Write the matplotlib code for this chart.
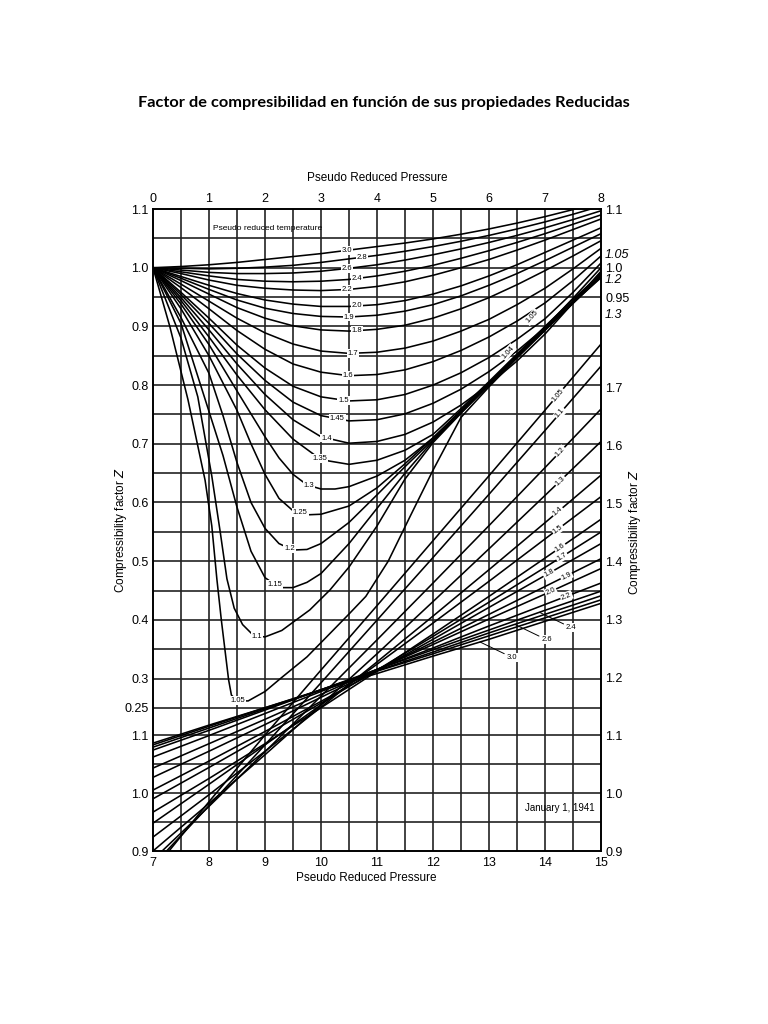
import numpy as np
import matplotlib
matplotlib.use("Agg")
import matplotlib.pyplot as plt

plt.rcParams['font.family'] = ['Liberation Sans Narrow', 'Liberation Sans', 'DejaVu Sans']

# ---- upper chart (pseudo reduced pressure 0 - 8) ----
p_up = [0, 0.5, 1, 1.5, 2, 2.5, 3, 3.5, 4, 4.5, 5, 5.5, 6, 6.5, 7, 7.5, 8]

z_up_30 = [1.0, 1.002, 1.005, 1.009, 1.014, 1.019, 1.024, 1.030, 1.036, 1.042, 1.049, 1.057, 1.066, 1.076, 1.087, 1.099, 1.112]
z_up_28 = [1.0, 0.999, 0.998, 0.999, 1.001, 1.004, 1.009, 1.015, 1.021, 1.028, 1.036, 1.045, 1.055, 1.066, 1.078, 1.091, 1.105]
z_up_26 = [1.0, 0.996, 0.992, 0.990, 0.990, 0.991, 0.994, 0.999, 1.005, 1.013, 1.022, 1.032, 1.043, 1.055, 1.068, 1.082, 1.097]
z_up_24 = [1.0, 0.993, 0.986, 0.980, 0.977, 0.976, 0.977, 0.980, 0.986, 0.994, 1.004, 1.016, 1.029, 1.043, 1.058, 1.074, 1.090]
z_up_22 = [1.0, 0.990, 0.979, 0.970, 0.965, 0.962, 0.961, 0.963, 0.968, 0.976, 0.987, 1.000, 1.014, 1.030, 1.047, 1.065, 1.083]
z_up_20 = [1.0, 0.985, 0.970, 0.956, 0.945, 0.938, 0.934, 0.934, 0.937, 0.944, 0.955, 0.969, 0.986, 1.005, 1.026, 1.047, 1.068]
z_up_19 = [1.0, 0.982, 0.963, 0.945, 0.931, 0.922, 0.917, 0.916, 0.919, 0.926, 0.937, 0.952, 0.970, 0.990, 1.012, 1.035, 1.058]
z_up_18 = [1.0, 0.978, 0.955, 0.932, 0.914, 0.901, 0.894, 0.892, 0.895, 0.902, 0.914, 0.930, 0.949, 0.971, 0.995, 1.020, 1.046]
z_up_17 = [1.0, 0.972, 0.943, 0.914, 0.889, 0.870, 0.858, 0.854, 0.856, 0.863, 0.875, 0.892, 0.912, 0.937, 0.965, 0.998, 1.033]
z_up_16 = [1.0, 0.966, 0.930, 0.893, 0.861, 0.836, 0.822, 0.816, 0.818, 0.826, 0.840, 0.859, 0.882, 0.909, 0.940, 0.978, 1.020]
z_up_15 = [1.0, 0.958, 0.914, 0.868, 0.829, 0.798, 0.780, 0.773, 0.775, 0.784, 0.800, 0.821, 0.847, 0.878, 0.913, 0.958, 1.008]
z_up_145 = [1.0, 0.954, 0.905, 0.853, 0.808, 0.771, 0.748, 0.739, 0.741, 0.751, 0.769, 0.793, 0.823, 0.858, 0.898, 0.948, 1.000]
z_up_14 = [1.0, 0.949, 0.894, 0.836, 0.784, 0.741, 0.712, 0.701, 0.704, 0.716, 0.737, 0.766, 0.801, 0.841, 0.887, 0.940, 0.994]
z_up_135 = [1.0, 0.944, 0.882, 0.817, 0.758, 0.708, 0.673, 0.665, 0.672, 0.689, 0.716, 0.760, 0.806, 0.853, 0.900, 0.946, 0.990]

p_up_13 = [0, 0.5, 1, 1.5, 2, 2.25, 2.5, 2.75, 3, 3.25, 3.5, 4, 4.5, 5, 5.5, 6, 6.5, 7, 7.5, 8]
z_up_13 = [1.0, 0.938, 0.869, 0.790, 0.712, 0.676, 0.648, 0.630, 0.623, 0.623, 0.627, 0.645, 0.672, 0.710, 0.757, 0.804, 0.852, 0.899, 0.943, 0.987]

p_up_125 = [0, 0.5, 1, 1.5, 1.75, 2, 2.25, 2.5, 2.75, 3, 3.5, 4, 4.5, 5, 5.5, 6, 6.5, 7, 7.5, 8]
z_up_125 = [1.0, 0.930, 0.850, 0.757, 0.700, 0.648, 0.607, 0.586, 0.579, 0.580, 0.594, 0.625, 0.666, 0.710, 0.755, 0.802, 0.850, 0.897, 0.941, 0.984]

p_up_12 = [0, 0.5, 1, 1.25, 1.5, 1.75, 2, 2.25, 2.5, 2.75, 3, 3.5, 4, 4.5, 5, 5.5, 6, 6.5, 7, 7.5, 8]
z_up_12 = [1.0, 0.915, 0.820, 0.748, 0.668, 0.600, 0.556, 0.530, 0.519, 0.520, 0.530, 0.566, 0.613, 0.661, 0.707, 0.754, 0.801, 0.849, 0.896, 0.940, 0.983]

p_up_115 = [0, 0.5, 1, 1.25, 1.5, 1.75, 2, 2.25, 2.5, 2.75, 3, 3.5, 4, 4.5, 5, 5.5, 6, 6.5, 7, 7.5, 8]
z_up_115 = [1.0, 0.905, 0.755, 0.680, 0.592, 0.517, 0.472, 0.455, 0.455, 0.464, 0.479, 0.530, 0.590, 0.650, 0.705, 0.753, 0.800, 0.848, 0.895, 0.939, 0.985]

p_up_11 = [0, 0.5, 0.8, 1.05, 1.2, 1.32, 1.45, 1.6, 1.8, 2.0, 2.3, 2.8, 3.16, 3.5, 4, 4.5, 5, 5.5, 6, 6.5, 7, 7.5, 8]
z_up_11 = [1.0, 0.880, 0.780, 0.645, 0.550, 0.470, 0.420, 0.392, 0.373, 0.371, 0.382, 0.417, 0.451, 0.490, 0.560, 0.640, 0.702, 0.752, 0.800, 0.848, 0.894, 0.940, 0.988]

p_up_105 = [0, 0.3, 0.625, 0.93, 1.05, 1.14, 1.22, 1.29, 1.35, 1.4, 1.5, 1.7, 2.0, 2.3, 2.75, 3.1, 3.5, 3.8, 4.2, 4.6, 5.0, 5.5, 6, 6.5, 7, 7.5, 8]
z_up_105 = [1.0, 0.900, 0.775, 0.638, 0.560, 0.470, 0.400, 0.345, 0.298, 0.272, 0.262, 0.262, 0.278, 0.302, 0.337, 0.371, 0.410, 0.440, 0.500, 0.578, 0.655, 0.745, 0.797, 0.846, 0.893, 0.942, 0.992]

# label text and the pressure where each label sits on its curve
upper_curves = [
    ("3.0", p_up, z_up_30, 3.46), ("2.8", p_up, z_up_28, 3.73),
    ("2.6", p_up, z_up_26, 3.46), ("2.4", p_up, z_up_24, 3.64),
    ("2.2", p_up, z_up_22, 3.46), ("2.0", p_up, z_up_20, 3.64),
    ("1.9", p_up, z_up_19, 3.5), ("1.8", p_up, z_up_18, 3.64),
    ("1.7", p_up, z_up_17, 3.57), ("1.6", p_up, z_up_16, 3.48),
    ("1.5", p_up, z_up_15, 3.4), ("1.45", p_up, z_up_145, 3.29),
    ("1.4", p_up, z_up_14, 3.1), ("1.35", p_up, z_up_135, 2.98),
    ("1.3", p_up_13, z_up_13, 2.79), ("1.25", p_up_125, z_up_125, 2.63),
    ("1.2", p_up_12, z_up_12, 2.44), ("1.15", p_up_115, z_up_115, 2.17),
    ("1.1", p_up_11, z_up_11, 1.86), ("1.05", p_up_105, z_up_105, 1.52),
]

# ---- lower chart (pseudo reduced pressure 7 - 15) ----
p_low = [7, 8, 9, 10, 11, 12, 13, 14, 15]

z_low_30 = [1.086, 1.117, 1.147, 1.177, 1.206, 1.236, 1.265, 1.296, 1.327]
z_low_28 = [1.083, 1.115, 1.147, 1.178, 1.210, 1.240, 1.271, 1.302, 1.333]
z_low_26 = [1.079, 1.112, 1.145, 1.178, 1.211, 1.243, 1.276, 1.308, 1.340]
z_low_24 = [1.074, 1.108, 1.143, 1.178, 1.213, 1.247, 1.281, 1.315, 1.348]
z_low_22 = [1.062, 1.099, 1.137, 1.175, 1.213, 1.250, 1.288, 1.325, 1.362]
z_low_20 = [1.043, 1.085, 1.127, 1.170, 1.213, 1.256, 1.300, 1.343, 1.387]
z_low_19 = [1.027, 1.072, 1.118, 1.165, 1.212, 1.260, 1.308, 1.356, 1.404]
z_low_18 = [1.005, 1.055, 1.106, 1.158, 1.211, 1.265, 1.320, 1.375, 1.430]
z_low_17 = [0.990, 1.044, 1.099, 1.155, 1.212, 1.270, 1.329, 1.389, 1.450]
z_low_16 = [0.967, 1.025, 1.085, 1.147, 1.210, 1.274, 1.339, 1.405, 1.472]
z_low_15 = [0.948, 1.015, 1.083, 1.152, 1.222, 1.293, 1.365, 1.438, 1.511]
z_low_14 = [0.924, 0.997, 1.072, 1.148, 1.226, 1.305, 1.385, 1.466, 1.548]
z_low_13 = [0.900, 0.982, 1.066, 1.152, 1.240, 1.330, 1.421, 1.513, 1.606]
z_low_12 = [0.885, 0.977, 1.071, 1.167, 1.264, 1.362, 1.461, 1.561, 1.662]
z_low_11 = [0.875, 0.978, 1.083, 1.190, 1.298, 1.406, 1.515, 1.625, 1.736]
z_low_105 = [0.866, 0.985, 1.100, 1.212, 1.323, 1.435, 1.547, 1.660, 1.774]

# inline labels: (text, values, label pressure)
lower_inline = [
    ("1.05", z_low_105, 14.23), ("1.1", z_low_11, 14.27), ("1.2", z_low_12, 14.27),
    ("1.3", z_low_13, 14.27), ("1.4", z_low_14, 14.23), ("1.5", z_low_15, 14.23),
    ("1.6", z_low_16, 14.27), ("1.7", z_low_17, 14.3), ("1.8", z_low_18, 14.07),
    ("1.9", z_low_19, 14.38), ("2.0", z_low_20, 14.1), ("2.2", z_low_22, 14.38),
]
# labels with a leader line: (text, values, pressure where leader meets curve)
lower_leader = [("2.4", z_low_24, 13.9), ("2.6", z_low_26, 13.46), ("3.0", z_low_30, 12.84)]
lower_plain = [z_low_28]

# ---- layout: one frame, lower chart mapped below the upper one ----
Y_BOT = 0.0063
LOW_SCALE = 580 / 587


def low_y(z):
    return Y_BOT + (np.asarray(z, dtype=float) - 0.9) * LOW_SCALE


fig = plt.figure(figsize=(7.68, 10.24), dpi=100)
ax = fig.add_axes([153 / 768, 1 - 851 / 1024, 448 / 768, 642 / 1024])
ax.set_xlim(0, 8)
ax.set_ylim(Y_BOT, 1.1)

grid_kw = dict(color='#222222', lw=1.2, zorder=1)
for gx in np.arange(0.5, 8, 0.5):
    ax.axvline(gx, **grid_kw)
for gy in np.arange(0.25, 1.09, 0.05):
    ax.axhline(gy, **grid_kw)
for gz in [0.95, 1.0, 1.05, 1.1]:
    ax.axhline(low_y(gz), **grid_kw)

lab_box = dict(boxstyle='square,pad=0.12', fc='white', ec='none')

for txt, pp, zz, pl in upper_curves:
    ax.plot(pp, zz, color='black', lw=1.15, zorder=3)
    ax.text(pl, np.interp(pl, pp, zz), txt, fontsize=5.5, ha='center', va='center',
            bbox=lab_box, zorder=5)

px_low = np.array(p_low) - 7
for zz in [z for _, z, _ in lower_inline] + [z for _, z, _ in lower_leader] + lower_plain:
    ax.plot(px_low, low_y(zz), color='black', lw=1.15, zorder=3)

for txt, zz, pl in lower_inline:
    x0 = pl - 7
    y0 = low_y(np.interp(pl, p_low, zz))
    a = ax.transData.transform([(x0 - 0.2, low_y(np.interp(pl - 0.2, p_low, zz))),
                                (x0 + 0.2, low_y(np.interp(pl + 0.2, p_low, zz)))])
    ang = np.degrees(np.arctan2(a[1, 1] - a[0, 1], a[1, 0] - a[0, 0]))
    ax.text(x0, y0, txt, fontsize=5.5, ha='center', va='center', rotation=ang,
            rotation_mode='anchor', bbox=lab_box, zorder=5)

for txt, zz, pl in lower_leader:
    ax.annotate(txt, xy=(pl - 7, low_y(np.interp(pl, p_low, zz))), xytext=(19, -11),
                textcoords='offset points', fontsize=5.5, ha='left', va='center',
                arrowprops=dict(arrowstyle='-', lw=0.7, color='black', shrinkA=1, shrinkB=0),
                bbox=lab_box, zorder=5)

# rotated labels on the converging bundle
ax.text(6.77, 0.916, "1.05", fontsize=5.5, ha='center', va='center', rotation=48,
        bbox=lab_box, zorder=5)
ax.text(6.34, 0.856, "1.04", fontsize=5.5, ha='center', va='center', rotation=48,
        bbox=lab_box, zorder=5)

for s in ax.spines.values():
    s.set_linewidth(1.4)
    s.set_color('black')

# left ticks
left_pos = [1.1, 1.0, 0.9, 0.8, 0.7, 0.6, 0.5, 0.4, 0.3, 0.25] + list(low_y([1.1, 1.0, 0.9]))
left_lab = ['1.1', '1.0', '0.9', '0.8', '0.7', '0.6', '0.5', '0.4', '0.3', '0.25', '1.1', '1.0', '0.9']
ax.set_yticks(left_pos)
ax.set_yticklabels(left_lab)
ax.tick_params(axis='y', length=0, pad=3, labelsize=9)

# bottom ticks (7 - 15)
ax.set_xticks(range(9))
ax.set_xticklabels([str(v) for v in range(7, 16)])
ax.tick_params(axis='x', length=0, pad=4, labelsize=9)

# top ticks (0 - 8)
axt = ax.twiny()
axt.set_xlim(0, 8)
axt.set_xticks(range(9))
axt.set_xticklabels([str(v) for v in range(0, 9)])
axt.tick_params(axis='x', length=0, pad=3, labelsize=9)

# right ticks
axr = ax.twinx()
axr.set_ylim(Y_BOT, 1.1)
right_pos = [1.1, 1.025, 1.0, 0.982, 0.95, 0.922] + list(low_y([1.7, 1.6, 1.5, 1.4, 1.3, 1.2, 1.1, 1.0, 0.9]))
right_lab = ['1.1', '1.05', '1.0', '1.2', '0.95', '1.3', '1.7', '1.6', '1.5', '1.4', '1.3', '1.2', '1.1', '1.0', '0.9']
axr.set_yticks(right_pos)
axr.set_yticklabels(right_lab)
axr.tick_params(axis='y', length=0, pad=3, labelsize=9)
for i, t in enumerate(axr.get_yticklabels()):
    if i in (1, 3, 5):
        t.set_fontstyle('italic')
for a2 in (axt, axr):
    for s in a2.spines.values():
        s.set_visible(False)

# axis titles and notes
fig.text(377 / 768, 1 - 178 / 1024, "Pseudo Reduced Pressure", fontsize=8.5, ha='center', va='center')
fig.text(366 / 768, 1 - 878 / 1024, "Pseudo Reduced Pressure", fontsize=8.5, ha='center', va='center')
fig.text(121 / 768, 1 - 530 / 1024, "Compressibility factor $Z$", fontsize=8.5, rotation=90,
         ha='center', va='center')
fig.text(635 / 768, 1 - 532 / 1024, "Compressibility factor $Z$", fontsize=8.5, rotation=90,
         ha='center', va='center')
fig.text(268 / 768, 1 - 229 / 1024, "Pseudo reduced temperature", fontsize=6, ha='center', va='center')
fig.text(560 / 768, 1 - 808 / 1024, "January 1, 1941", fontsize=7, ha='center', va='center')

fig.text(384 / 768, 1 - 103 / 1024, "Factor de compresibilidad en función de sus propiedades Reducidas",
         fontsize=11.8, fontweight='bold', ha='center', va='center', family=['Lato', 'DejaVu Sans'])

fig.savefig("out.png", dpi=100, facecolor='white')
